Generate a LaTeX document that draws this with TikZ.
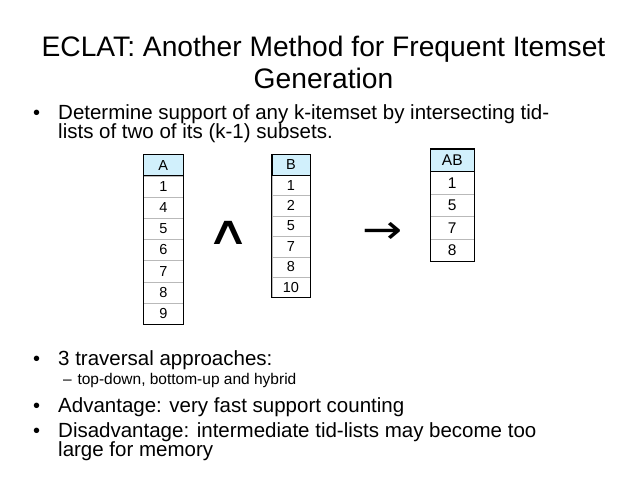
\documentclass[tikz,border=0pt]{standalone}
\usepackage{fontspec}
\setmainfont{Liberation Sans}
\newfontfamily\symfont{DejaVu Sans}
\tikzset{
  hdr/.style={draw=black,fill=cyan!18,inner sep=0pt,font=\fontsize{14.5}{14.5}\selectfont},
  cell/.style={draw=gray!55,fill=white,inner sep=0pt,font=\fontsize{14.5}{14.5}\selectfont},
  frame/.style={draw=black,line width=1.1pt},
  head/.style={inner sep=0pt,anchor=base,font=\fontsize{28.2}{28.2}\selectfont},
  txt/.style={anchor=base west,inner sep=0pt,font=\fontsize{20.5}{20.5}\selectfont},
  small/.style={anchor=base west,inner sep=0pt,font=\fontsize{15.5}{15.5}\selectfont},
  dot/.style={anchor=base west,inner sep=0pt,font=\fontsize{20}{20}\selectfont}
}
\begin{document}
\begin{tikzpicture}[x=1pt,y=-1pt]
\useasboundingbox (0,0) rectangle (638,479);
% title
\node[head] (t1) at (323.5,56.7) {ECLAT: Another Method for Frequent Itemset};
\node[head] (t2) at (323.5,88) {Generation};
% first bullet
\node[dot] (b1) at (33,119.5) {•};
\node[txt] (l1) at (58,119.5) {Determine support of any k-itemset by intersecting tid-};
\node[txt] (l2) at (58,138) {lists of two of its (k-1) subsets.};
% table A
\node[hdr,minimum width=39.5pt,minimum height=21.2pt] (A0) at (163.3,165.1) {A};
\foreach \v [count=\i] in {1,4,5,6,7,8,9}
  \node[cell,minimum width=39.5pt,minimum height=21.2pt] (A\i) at (163.3,165.1+21.2*\i) {\v};
\draw[frame] (A0.north west) rectangle (A7.south east);
\draw[frame] (A0.south west) -- (A0.south east);
% table B
\node[hdr,minimum width=38.5pt,minimum height=20.45pt] (B0) at (291,164.7) {B};
\foreach \v [count=\i] in {1,2,5,7,8,10}
  \node[cell,minimum width=38.5pt,minimum height=20.45pt] (B\i) at (291,164.7+20.45*\i) {\v};
\draw[frame] (B0.north west) rectangle (B6.south east);
\draw[frame] (B0.south west) -- (B0.south east);
% table AB
\node[hdr,minimum width=43.3pt,minimum height=22.5pt,font=\fontsize{15.5}{15.5}\selectfont] (C0) at (452.3,160.3) {AB};
\foreach \v [count=\i] in {1,5,7,8}
  \node[cell,minimum width=43.3pt,minimum height=22.5pt,font=\fontsize{15.5}{15.5}\selectfont] (C\i) at (452.3,160.3+22.5*\i) {\v};
\draw[frame] (C0.north west) rectangle (C4.south east);
\draw[frame] (C0.south west) -- (C0.south east);
% operators
\node[inner sep=0pt,font=\symfont\fontsize{40}{40}\selectfont] (and) at (228,233) {\scalebox{1.5}[1]{∧}};
\node[inner sep=0pt,font=\symfont\fontsize{40}{40}\selectfont] (to) at (383,233) {\scalebox{1.2}[1]{→}};
% lower bullets
\node[dot] (b2) at (33,365.7) {•};
\node[txt] (l3) at (58,365.7) {3 traversal approaches:};
\node[small] (d1) at (63,384) {–};
\node[small] (l4) at (77.3,384) {top-down, bottom-up and hybrid};
\node[dot] (b3) at (33,412.3) {•};
\node[txt] (l5) at (58,412.3) {Advantage: very fast support counting};
\node[dot] (b4) at (33,437.5) {•};
\node[txt] (l6) at (58,437.5) {Disadvantage: intermediate tid-lists may become too};
\node[txt] (l7) at (58,456) {large for memory};
\end{tikzpicture}
\end{document}
